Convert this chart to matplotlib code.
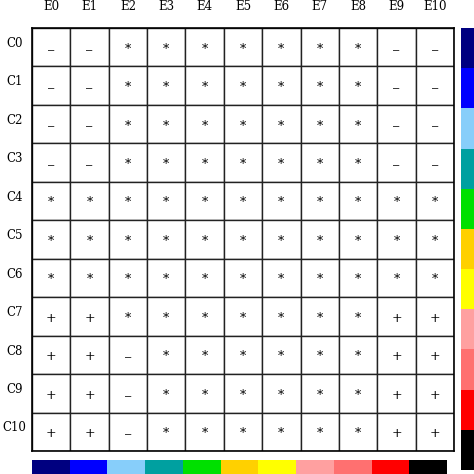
import matplotlib.pyplot as plt
from matplotlib.patches import Rectangle

cols = ["E%d" % i for i in range(11)]
rows = ["C%d" % i for i in range(11)]
symbols = [
    "--*******--",
    "--*******--",
    "--*******--",
    "--*******--",
    "***********",
    "***********",
    "***********",
    "++*******++",
    "++-******++",
    "++-******++",
    "++-******++",
]
bar_colors = ["#000080", "#0000ff", "#87cefa", "#00a0a0", "#00e000", "#ffd000",
              "#ffff00", "#ffa0a0", "#ff7070", "#ff0000", "#000000"]

fig = plt.figure(figsize=(4.74, 4.74), dpi=100)
W = 474.0
# main grid: x 32..454, y 28..451 (pixels from top)
ax = fig.add_axes([32 / W, 1 - 451 / W, 422 / W, 423 / W])
ax.set_xlim(0, 11)
ax.set_ylim(11, 0)
for i in range(11):
    for j in range(11):
        ax.add_patch(Rectangle((j, i), 1, 1, fc="white", ec="#222222", lw=1.0))
        s = symbols[i][j]
        txt = {"-": "_", "*": "*", "+": "+"}[s]
        dy = -0.08 if s == "-" else 0.05
        ax.text(j + 0.5, i + 0.5 + dy, txt, ha="center", va="center",
                fontsize=9, family="DejaVu Serif")
ax.set_xticks([])
ax.set_yticks([])
for sp in ax.spines.values():
    sp.set_linewidth(1.2)
for j, c in enumerate(cols):
    ax.text(j + 0.5, -0.55, c, ha="center", va="center", fontsize=8.5, family="DejaVu Serif")
for i, r in enumerate(rows):
    ax.text(-0.45, i + 0.4, r, ha="center", va="center", fontsize=8.5, family="DejaVu Serif")

# right colour bar
axr = fig.add_axes([461 / W, 1 - 470 / W, 13 / W, 442 / W])
axr.set_xlim(0, 1)
axr.set_ylim(11, 0)
for k, c in enumerate(bar_colors):
    axr.add_patch(Rectangle((0, k), 1, 1, fc=c, ec="none"))
axr.axis("off")

# bottom colour bar
axb = fig.add_axes([32 / W, 0, 415 / W, 14 / W])
axb.set_xlim(0, 11)
axb.set_ylim(0, 1)
for k, c in enumerate(bar_colors):
    axb.add_patch(Rectangle((k, 0), 1, 1, fc=c, ec="none"))
axb.axis("off")

fig.savefig("out.png", dpi=100)
